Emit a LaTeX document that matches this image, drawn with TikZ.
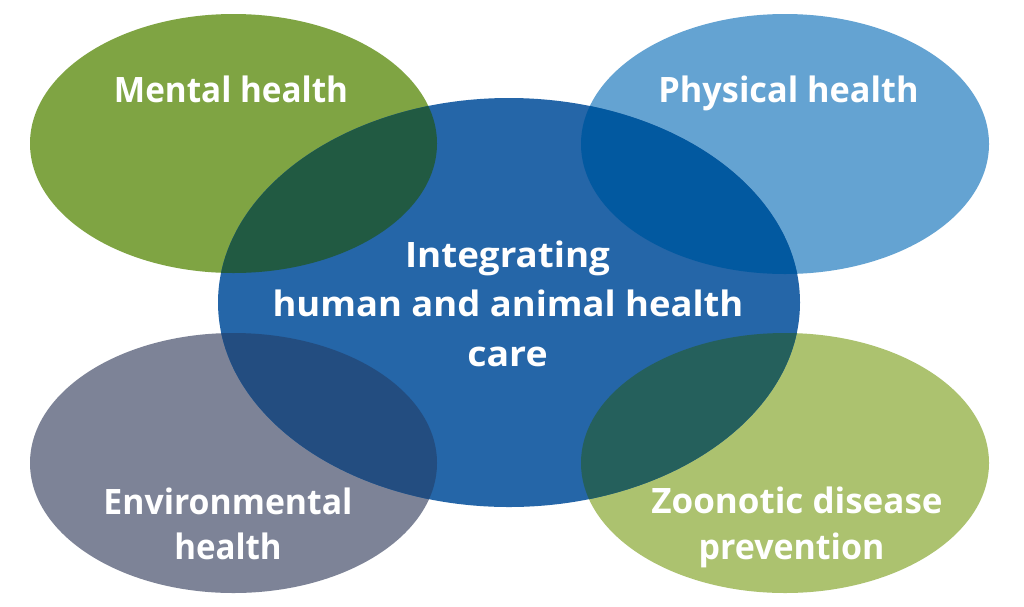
\documentclass[tikz,border=0pt]{standalone}
\usepackage{fontspec}
\setmainfont{Open Sans}
\definecolor{mentalc}{HTML}{7FA443}
\definecolor{physc}{HTML}{64A3D2}
\definecolor{envc}{HTML}{7D8397}
\definecolor{zooc}{HTML}{ACC26F}
\definecolor{centerc}{HTML}{2566A8}
\definecolor{mentalov}{HTML}{215A42}
\definecolor{physov}{HTML}{0259A0}
\definecolor{envov}{HTML}{234D80}
\definecolor{zooov}{HTML}{25605C}
\tikzset{
  lbl/.style={text=white, font=\fontsize{35}{50}\selectfont\bfseries\addfontfeature{FakeStretch=#1}, inner sep=0pt, anchor=base},
  lbl/.default=1,
}
\begin{document}
\begin{tikzpicture}[x=1pt,y=-1pt]
\fill[white] (0,0) rectangle (1024,606);
\useasboundingbox (0,0) rectangle (1024,606);
% outer ellipses
\fill[mentalc] (233.5,143.5) ellipse (203.5pt and 129.5pt);
\fill[physc] (785,144) ellipse (204pt and 130pt);
\fill[envc] (233.5,463) ellipse (203.5pt and 130pt);
\fill[zooc] (785,463) ellipse (204pt and 130pt);
% center
\fill[centerc] (509,302.5) ellipse (291pt and 204.5pt);
% overlaps
\begin{scope}
  \clip (509,302.5) ellipse (291pt and 204.5pt);
  \fill[mentalov] (233.5,143.5) ellipse (203.5pt and 129.5pt);
  \fill[physov] (785,144) ellipse (204pt and 130pt);
  \fill[envov] (233.5,463) ellipse (203.5pt and 130pt);
  \fill[zooov] (785,463) ellipse (204pt and 130pt);
\end{scope}
% labels
\node[lbl=0.95] (mental) at (231,102.7) {Mental health};
\node[lbl=0.98] (phys) at (788.5,102.5) {Physical health};
\node[lbl=1.05] (c1) at (507.5,267) {Integrating};
\node[lbl=1.04] (c2) at (508,316.5) {human and animal health};
\node[lbl=1.07] (c3) at (507.5,366.5) {care};
\node[lbl=0.965] (env1) at (228,514) {Environmental};
\node[lbl=0.945] (env2) at (228,559) {health};
\node[lbl=1.0] (zoo1) at (797,513.5) {Zoonotic disease};
\node[lbl=0.97] (zoo2) at (791.5,559) {prevention};
\end{tikzpicture}
\end{document}
